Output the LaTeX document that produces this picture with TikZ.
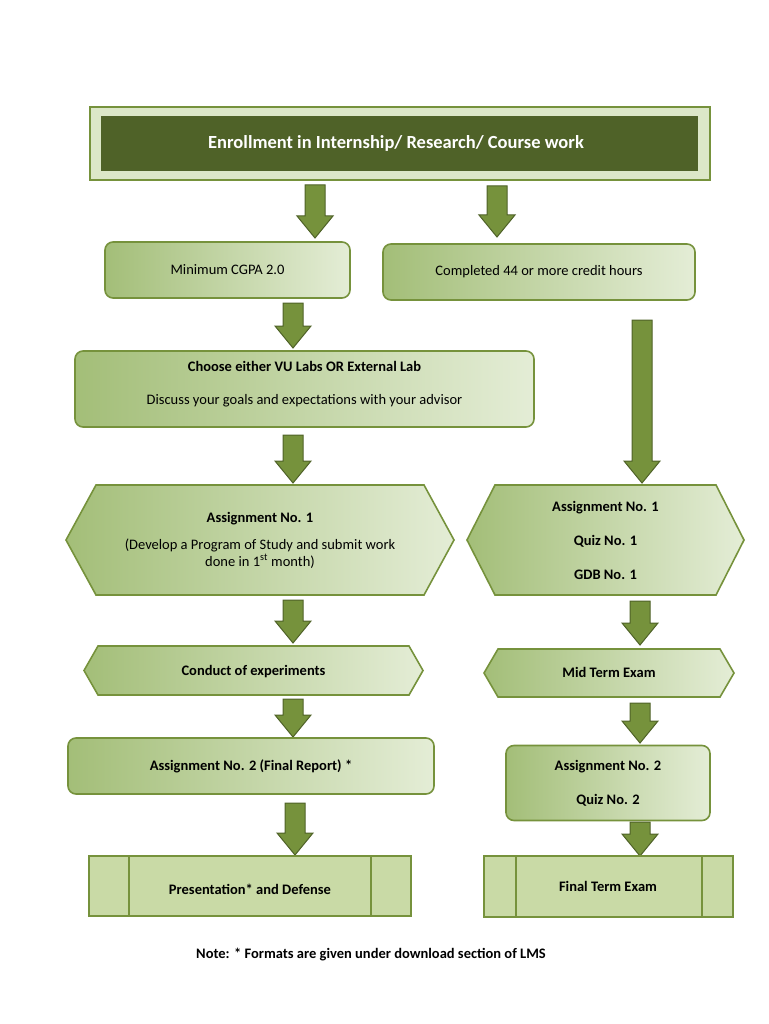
\documentclass[tikz,border=0pt]{standalone}
\usepackage{fontspec}
\setmainfont{Carlito}
\usetikzlibrary{calc}
\definecolor{dkolive}{HTML}{4F6228}
\definecolor{olive}{HTML}{76923C}
\definecolor{gl}{HTML}{A3BE78}
\definecolor{gr}{HTML}{E4EDD6}
\definecolor{pale}{HTML}{C9DAA6}
\tikzset{
  box/.style={draw=olive, line width=1.6pt, rounded corners=8pt, left color=gl, right color=gr,
    font=\fontsize{14.5}{17}\selectfont, align=center, inner sep=0pt},
  txt/.style={font=\fontsize{14.5}{17}\selectfont, align=center, inner sep=0pt},
  btxt/.style={txt, font=\fontsize{14.5}{17}\selectfont\bfseries},
  hexa/.style={draw=olive, line width=1.6pt, left color=gl, right color=gr},
  pbox/.style={draw=olive, line width=1.6pt, fill=pale},
  barrow/.style={draw=dkolive, line width=1pt, fill=olive},
}
% block arrow: x, top y, bottom y
\newcommand\blkarrow[3]{%
  \path[barrow] (#1-10,#2) -- (#1+10,#2) -- (#1+10,#3-22) -- (#1+18,#3-22)
    -- (#1,#3) -- (#1-18,#3-22) -- (#1-10,#3-22) -- cycle;}
\newcommand\hexshape[5]{% x1 y1 x2 y2 indent
  \path[hexa] (#1+#5,#2) -- (#3-#5,#2) -- (#3,{(#2+#4)/2}) -- (#3-#5,#4)
    -- (#1+#5,#4) -- (#1,{(#2+#4)/2}) -- cycle;}
\begin{document}
\begin{tikzpicture}[x=1pt,y=-1pt]
\useasboundingbox (0,0) rectangle (768,1024);
% title
\draw[pbox, fill=gr!70!pale] (90,107) rectangle (710,180);
\fill[dkolive] (101,116) rectangle (698,171);
\node[txt, text=white, font=\fontsize{18.5}{22}\selectfont\bfseries] (title) at (396,143) {Enrollment in Internship/ Research/ Course work};
\blkarrow{315}{185}{238}
\blkarrow{497}{186}{237}
% second row
\node[box, minimum width=245pt, minimum height=56pt] (cgpa) at (227.5,270) {Minimum CGPA 2.0};
\node[box, minimum width=312pt, minimum height=56pt] (credit) at (539,272) {Completed 44 or more credit hours};
\blkarrow{293}{303}{348}
\node[box, minimum width=459pt, minimum height=76pt] (lab) at (304.5,389) {};
\node[btxt] (labA) at (304.5,366) {Choose either VU Labs OR External Lab};
\node[txt] (labB) at (304.5,401) {Discuss your goals and expectations with your advisor};
\blkarrow{293}{435}{483}
\blkarrow{642}{320}{483}
% hexagons
\hexshape{66}{485}{454}{595}{30}
\node[txt] (as1) at (260,540) {\textbf{Assignment No. 1}\\[10pt](Develop a Program of Study and submit work\\done in 1\textsuperscript{st} month)};
\hexshape{467}{485}{744}{595}{28}
\node[btxt] (as1r) at (605.5,540) {Assignment No. 1\\[17pt]Quiz No. 1\\[17pt]GDB No. 1};
\blkarrow{293}{600}{643}
\blkarrow{640}{601}{645}
\hexshape{84}{646}{423}{695}{14}
\node[btxt] (exp) at (253.5,672) {Conduct of experiments};
\hexshape{484}{649}{734}{697}{14}
\node[btxt] (mid) at (609,672) {Mid Term Exam};
\blkarrow{293}{699}{737}
\blkarrow{640}{703}{743}
\node[box, font=\fontsize{14.5}{17}\selectfont\bfseries, minimum width=366pt, minimum height=56pt] (as2) at (251,766) {Assignment No. 2 (Final Report) *};
\node[box, font=\fontsize{14.5}{17}\selectfont\bfseries, minimum width=204pt, minimum height=75pt] (as2r) at (608,783) {Assignment No. 2\\[17pt]Quiz No. 2};
\blkarrow{295}{803}{855}
\blkarrow{640}{822}{856}
% final boxes
\draw[pbox] (89,856) rectangle (411,916);
\draw[olive, line width=1.6pt] (129,856) -- (129,916) (371,856) -- (371,916);
\node[btxt] (pres) at (250,889) {Presentation* and Defense};
\draw[pbox] (484,856) rectangle (733,917);
\draw[olive, line width=1.6pt] (516,856) -- (516,917) (702,856) -- (702,917);
\node[btxt] (fin) at (608,886) {Final Term Exam};
\node[btxt] (note) at (371,955) {Note: * Formats are given under download section of LMS};
\end{tikzpicture}
\end{document}
